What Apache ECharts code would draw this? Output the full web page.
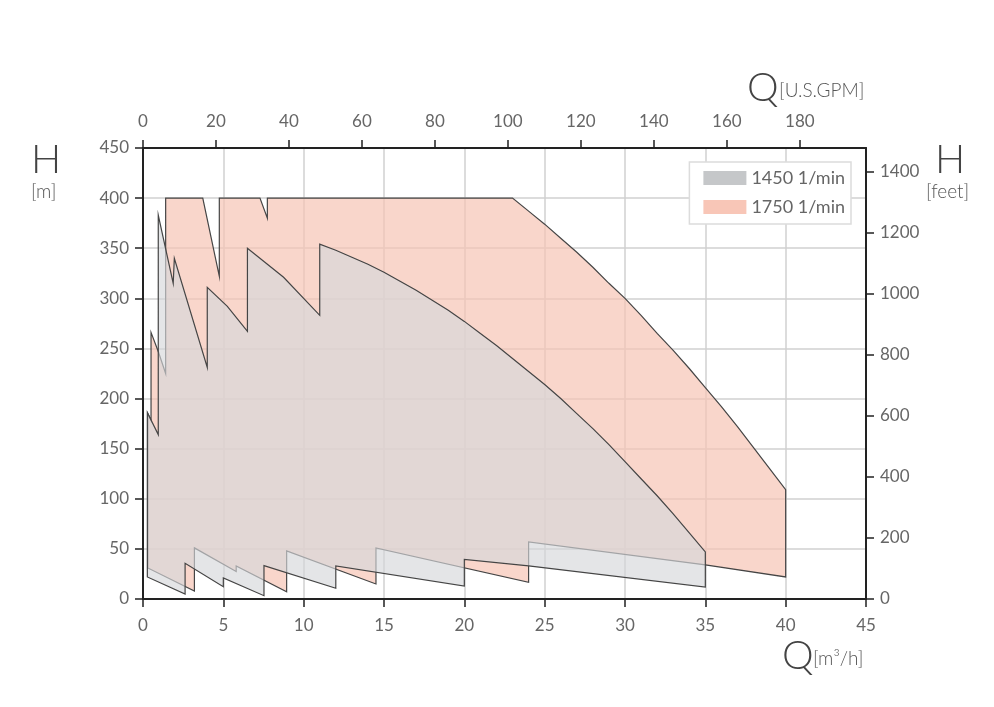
<!DOCTYPE html>
<html lang="en">
<head>
<meta charset="UTF-8">
<title>Q-H</title>
<script src="https://cdn.jsdelivr.net/npm/echarts@6/dist/echarts.min.js"></script>
<style>
  * { margin: 0; padding: 0; }
  #chart { width: 994px; height: 707px; }
</style>
</head>
<body>
<div id="chart"></div>
<script>
  // envelope edges, [Q m3/h, H m], read left to right
  var top1450 = [[0.27, 186], [0.95, 164], [0.95, 383], [1.88, 315], [1.95, 340], [4, 231], [4, 311], [5.25, 292],
    [6.5, 267], [6.5, 350], [8.75, 321], [11, 283], [11, 354], [12, 348], [13, 341], [14, 334], [15, 326],
    [16, 317], [17, 308], [18, 298], [19, 288], [20, 277], [21, 265], [22, 253], [23, 240], [24, 227], [25, 214],
    [26, 200], [27, 185], [28, 170], [29, 154], [30, 137], [31, 120], [32, 103], [33, 85], [34, 66], [35, 47]];
  var bottom1450 = [[0.27, 22], [2.62, 5], [2.62, 35.6], [5, 12.3], [5, 21], [7.53, 3.3], [7.53, 33.3], [12, 10.7],
    [12, 33], [20, 13], [20, 39.6], [24, 33], [35, 12]];
  var top1750 = [[0.3, 185], [0.5, 178], [0.5, 266], [0.95, 247], [1.41, 225], [1.41, 400], [3.72, 400], [4.75, 322],
    [4.75, 400], [7.28, 400], [7.74, 380], [7.74, 400], [23, 400], [24, 387], [25, 374], [26, 360], [27, 346],
    [28, 331], [29, 315], [30, 300], [31, 283], [32, 265], [33, 248], [34, 230], [35, 211], [36, 192], [37, 172],
    [38, 151], [39, 130], [40, 109]];
  var bottom1750 = [[0.3, 31], [3.2, 8], [3.2, 51], [5.8, 27.5], [5.8, 33], [8.94, 7.3], [8.94, 48], [14.5, 15],
    [14.5, 51], [24, 16.6], [24, 57], [35, 34], [40, 22]];

  var gpmTicks = [0, 20, 40, 60, 80, 100, 120, 140, 160, 180];
  var feetTicks = [0, 200, 400, 600, 800, 1000, 1200, 1400];
  var names = ['1450 1/min', '1750 1/min'];

  var font = 'Lato';
  var labelColor = '#666';
  var axisColor = '#222';

  function outline(upper, lower) {
    return upper.concat(lower.slice().reverse());
  }

  function envelopeSeries(name, pts, legendColor, fill, z) {
    return {
      name: name,
      type: 'custom',
      xAxisIndex: 0,
      yAxisIndex: 0,
      z: z,
      silent: true,
      itemStyle: { color: legendColor },
      data: pts,
      renderItem: function (params, api) {
        if (params.dataIndex !== 0) return;
        return {
          type: 'polygon',
          shape: { points: pts.map(function (p) { return api.coord(p); }) },
          style: { fill: fill, stroke: '#454545', lineWidth: 1.2 }
        };
      }
    };
  }

  function axisBase(extra) {
    var a = {
      type: 'value',
      axisLine: { show: true, onZero: false, lineStyle: { color: axisColor, width: 2 } },
      axisTick: { show: true, length: 8, lineStyle: { color: axisColor, width: 1.5 } },
      axisLabel: { color: labelColor, fontSize: 17, fontFamily: font, formatter: function (v) { return String(v); } },
      splitLine: { show: false }
    };
    for (var k in extra) {
      if (typeof extra[k] === 'object' && a[k]) Object.assign(a[k], extra[k]);
      else a[k] = extra[k];
    }
    return a;
  }

  var chart = echarts.init(document.getElementById('chart'));
  chart.setOption({
    animation: false,
    grid: { left: 143, right: 128, top: 148, bottom: 108 },
    legend: {
      data: names,
      orient: 'vertical',
      right: 143,
      top: 162,
      icon: 'rect',
      itemWidth: 43,
      itemHeight: 14,
      itemGap: 9,
      padding: [6, 6, 7, 14],
      backgroundColor: '#fff',
      borderColor: '#dcdcdc',
      borderWidth: 1.5,
      borderRadius: 0,
      selectedMode: false,
      textStyle: { color: labelColor, fontSize: 18, fontFamily: font, lineHeight: 20 }
    },
    xAxis: [
      axisBase({
        position: 'bottom', min: 0, max: 45, interval: 5,
        axisLabel: { margin: 18 },
        splitLine: { show: true, lineStyle: { color: '#d0d0d0', width: 1.5 } }
      }),
      axisBase({
        position: 'top', min: 0, max: 45 * 4.40287,
        axisTick: { customValues: gpmTicks },
        axisLabel: { margin: 18, customValues: gpmTicks }
      })
    ],
    yAxis: [
      axisBase({
        position: 'left', min: 0, max: 450, interval: 50,
        axisLabel: { margin: 14 },
        splitLine: { show: true, lineStyle: { color: '#d0d0d0', width: 1.5 } }
      }),
      axisBase({
        position: 'right', min: 0, max: 450 / 0.3048,
        axisTick: { customValues: feetTicks },
        axisLabel: { margin: 14, customValues: feetTicks }
      })
    ],
    graphic: [
      { type: 'text', left: 31, top: 140, style: { text: 'H', font: '300 40px Lato', fill: '#444' } },
      { type: 'text', left: 31, top: 182, style: { text: '[m]', font: '300 19px Lato', fill: '#555' } },
      { type: 'text', left: 935, top: 140, style: { text: 'H', font: '300 40px Lato', fill: '#444' } },
      { type: 'text', left: 926, top: 182, style: { text: '[feet]', font: '300 19px Lato', fill: '#555' } },
      { type: 'text', left: 747, top: 68, style: { text: 'Q', font: '300 40px Lato', fill: '#444' } },
      { type: 'text', left: 779, top: 81, style: { text: '[U.S.GPM]', font: '300 19px Lato', fill: '#555' } },
      { type: 'text', left: 782, top: 636, style: { text: 'Q', font: '300 40px Lato', fill: '#444' } },
      { type: 'text', left: 813, top: 649, style: { text: '[m\u00b3/h]', font: '300 19px Lato', fill: '#555' } }
    ],
    series: [
      envelopeSeries(names[1], outline(top1750, bottom1750), '#f8c6b7', 'rgba(247,196,181,0.7)', 2),
      envelopeSeries(names[0], outline(top1450, bottom1450), '#c5c7c9', 'rgba(213,215,218,0.65)', 3)
    ]
  });
</script>
</body>
</html>
